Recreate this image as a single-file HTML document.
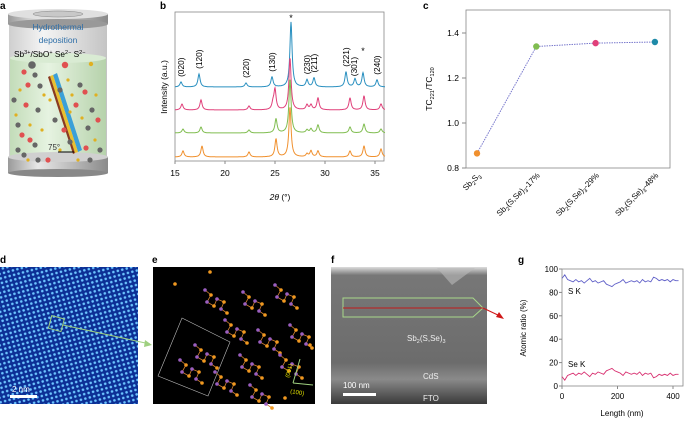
<!DOCTYPE html>
<html><head><meta charset="utf-8">
<style>
html,body{margin:0;padding:0;background:#fff;}
svg{display:block;font-family:"Liberation Sans",Arial,sans-serif;}
</style></head>
<body>
<svg id="fig" width="685" height="422" viewBox="0 0 685 422">
<defs>
<linearGradient id="cyl" x1="0" x2="1"><stop offset="0" stop-color="#9a9a9a"/><stop offset="0.3" stop-color="#e8e8e8"/><stop offset="1" stop-color="#8a8a8a"/></linearGradient>
<linearGradient id="glass" x1="0" x2="1"><stop offset="0" stop-color="#cfcfcf"/><stop offset="0.35" stop-color="#f4f4f4"/><stop offset="1" stop-color="#c4c4c4"/></linearGradient>
<linearGradient id="liq" x1="0" x2="1"><stop offset="0" stop-color="#c3dcb9"/><stop offset="0.4" stop-color="#e6f3e1"/><stop offset="1" stop-color="#b6d2ab"/></linearGradient>
<pattern id="lat" width="4.6" height="4.6" patternUnits="userSpaceOnUse" patternTransform="rotate(-15)"><rect width="4.6" height="4.6" fill="#0c2f95"/><circle cx="2.3" cy="2.3" r="1.3" fill="#6cc4ff"/></pattern>
<linearGradient id="tem" x1="0" y1="0" x2="0" y2="1"><stop offset="0" stop-color="#dcdcdc"/><stop offset="0.06" stop-color="#777"/><stop offset="0.7" stop-color="#6c6c6c"/><stop offset="0.82" stop-color="#8a8a8a"/><stop offset="1" stop-color="#3a3a3a"/></linearGradient>
</defs>

<!-- Panel a -->
<g>
<text x="0" y="9" font-weight="bold" font-size="10">a</text>
<rect x="9" y="20" width="98" height="140" fill="url(#glass)"/>
<rect x="10" y="58" width="96" height="102" fill="url(#liq)"/>
<ellipse cx="58" cy="58" rx="48" ry="5" fill="#d9ebd3"/>
<rect x="8" y="157" width="100" height="16" fill="url(#cyl)"/>
<ellipse cx="58" cy="157" rx="50" ry="5" fill="#d0d0d0"/>
<ellipse cx="58" cy="173" rx="50" ry="4" fill="#888"/>
<rect x="8" y="14" width="100" height="10" fill="url(#cyl)"/>
<ellipse cx="58" cy="14" rx="50" ry="5" fill="#e0e0e0"/>
<ellipse cx="58" cy="24" rx="50" ry="5" fill="#999"/>
<ellipse cx="58" cy="14" rx="25" ry="3" fill="#c8c8c8" stroke="#888" stroke-width="0.5"/>
<text x="58" y="30" font-size="8.5" fill="#2f6fa8" text-anchor="middle">Hydrothermal</text>
<text x="58" y="43" font-size="8.5" fill="#2f6fa8" text-anchor="middle">deposition</text>
<text x="14" y="57" font-size="8.3">Sb<tspan font-size="5.5" dy="-3">3+</tspan><tspan dy="3">/SbO</tspan><tspan font-size="5.5" dy="-3">+</tspan><tspan dy="3"> Se</tspan><tspan font-size="5.5" dy="-3">2−</tspan><tspan dy="3"> S</tspan><tspan font-size="5.5" dy="-3">2−</tspan></text>
<circle cx="32" cy="65" r="3.8" fill="#666"/><circle cx="65" cy="65" r="3.2" fill="#e05050"/><circle cx="91" cy="64" r="2.2" fill="#e0b020"/>
<polygon points="53,75 57,73 82,150 78,152" fill="#3ba0d8"/>
<polygon points="50,76 53,75 78,152 75,153" fill="#e8c030"/>
<polygon points="48,77 50,76 75,153 73,154" fill="#8a3a20"/>
<text x="48" y="150" font-size="8" fill="#333">75°</text>
<line x1="58" y1="152" x2="74" y2="152" stroke="#000"/>
<g id="parts"></g>
</g>

<!-- Panel b -->
<g>
<text x="160" y="9" font-weight="bold" font-size="10">b</text>
<rect x="175" y="12" width="209" height="149" fill="none" stroke="#888" stroke-width="0.8"/>
<g id="xrdTicks"></g>
<g id="xrdCurves"></g>
<text transform="translate(167,87) rotate(-90)" font-size="8.5" text-anchor="middle">Intensity (a.u.)</text>
<text x="280" y="200" font-size="8.5" text-anchor="middle"><tspan font-style="italic">2θ</tspan> (°)</text>
</g>

<!-- Panel c -->
<g>
<text x="423" y="9" font-weight="bold" font-size="10">c</text>
<rect x="466" y="10" width="204" height="158" fill="none" stroke="#888" stroke-width="0.8"/>
<g id="tcAxis"></g>
<g id="tcMarks"></g>
<text transform="translate(432,89) rotate(-90)" font-size="8.5" text-anchor="middle">TC<tspan font-size="5.5" dy="2">221</tspan><tspan dy="-2">/TC</tspan><tspan font-size="5.5" dy="2">120</tspan></text>
</g>

<!-- Panel d -->
<g>
<text x="0" y="263" font-weight="bold" font-size="10">d</text>
<rect x="0" y="267" width="138" height="137" fill="url(#lat)"/>
<rect x="50" y="317" width="13" height="13" fill="none" stroke="#9fd080" stroke-width="1" transform="rotate(15 56 323)"/>
<line x1="63" y1="325" x2="150" y2="344" stroke="#9fd080" stroke-width="1"/>
<polygon points="152,345 145,340 144,347" fill="#9fd080"/>
<rect x="10" y="395" width="27" height="3" fill="#fff"/>
<text x="12" y="392" font-size="8" fill="#fff">2 nm</text>
</g>

<!-- Panel e -->
<g>
<text x="152" y="263" font-weight="bold" font-size="10">e</text>
<rect x="153" y="267" width="162" height="137" fill="#000"/>
<polygon points="182,318 230,342 208,396 158,376" fill="none" stroke="#bbb" stroke-width="0.6"/>
<g id="atoms"></g>
<line x1="293" y1="383" x2="300" y2="359" stroke="#9fd080"/><line x1="293" y1="383" x2="313" y2="385" stroke="#9fd080"/>
<text transform="translate(289,378) rotate(-75)" font-size="6" fill="#e0e000">(001)</text>
<text transform="translate(290,393) rotate(10)" font-size="6" fill="#e0e000">(100)</text>
</g>

<!-- Panel f -->
<g>
<text x="331" y="263" font-weight="bold" font-size="10">f</text>
<rect x="331" y="267" width="156" height="137" fill="url(#tem)"/>
<polygon points="437,268 475,268 452,285" fill="#bbb" opacity="0.6"/>
<polygon points="343,298 473,298 483,308 473,317 343,317" fill="none" stroke="#a8d88a" stroke-width="1"/>
<line x1="343" y1="308" x2="483" y2="308" stroke="#c01818" stroke-width="1"/>
<line x1="483" y1="308" x2="500" y2="316" stroke="#d01818" stroke-width="1"/>
<polygon points="504,319 496,317 499,312" fill="#d01818"/>
<text x="407" y="341" font-size="8" fill="#eee">Sb<tspan font-size="5.5" dy="2">2</tspan><tspan dy="-2">(S,Se)</tspan><tspan font-size="5.5" dy="2">3</tspan></text>
<text x="423" y="379" font-size="8" fill="#eee">CdS</text>
<text x="423" y="401" font-size="8" fill="#eee">FTO</text>
<text x="343" y="388" font-size="8" fill="#fff">100 nm</text>
<rect x="343" y="393" width="33" height="3" fill="#fff"/>
</g>

<!-- Panel g -->
<g>
<text x="518" y="263" font-weight="bold" font-size="10">g</text>
<rect x="562" y="269" width="121" height="117" fill="none" stroke="#888" stroke-width="0.8"/>
<g id="edsAxis"></g>
<g id="edsLines"></g>
<text x="568" y="294" font-size="8">S K</text>
<text x="568" y="367" font-size="8">Se K</text>
<text transform="translate(526,328) rotate(-90)" font-size="8" text-anchor="middle">Atomic ratio (%)</text>
<text x="622" y="416" font-size="8" text-anchor="middle">Length (nm)</text>
</g>
</svg>
<script>
// ---------- XRD data (panel b) ----------
const xrdTickLabels = [15, 20, 25, 30, 35];
const xrdSeriesNames = ["Sb2(S,Se)3-48%", "Sb2(S,Se)3-29%", "Sb2(S,Se)3-17%", "Sb2S3"];
const bluePeakPos = [15.6, 17.4, 22.1, 24.7, 26.6, 28.2, 28.9, 32.1, 33.0, 33.8, 35.2];
const bluePeakH = [5, 13, 4, 10, 65, 7, 9, 15, 8, 14, 7];
const pinkPeakPos = [15.7, 17.6, 22.4, 24.8, 25.0, 26.5, 28.2, 28.6, 29.3, 32.5, 33.9, 35.6];
const pinkPeakH = [6, 10, 4, 6, 20, 52, 5, 5, 12, 12, 14, 6];
const greenPeakPos = [15.8, 17.6, 22.4, 25.1, 26.5, 28.2, 28.6, 29.3, 32.5, 33.9, 35.6];
const greenPeakH = [4, 6, 3, 14, 54, 3, 4, 8, 6, 9, 4];
const orangePeakPos = [15.8, 17.7, 22.4, 25.1, 26.5, 28.2, 28.6, 29.3, 32.5, 33.9, 35.6];
const orangePeakH = [6, 11, 5, 18, 50, 3, 6, 6, 6, 11, 8];
const peakLabels = ["(020)", "(120)", "(220)", "(130)", "(230)", "(211)", "(221)", "(301)", "(240)"];
const peakLabelPos = [15.6, 17.4, 22.1, 24.7, 28.2, 28.9, 32.1, 32.9, 35.2];
const starPos = [26.6, 33.8];

// ---------- TC ratio data (panel c) ----------
const tcCategories = ["Sb2S3", "Sb2(S,Se)3-17%", "Sb2(S,Se)3-29%", "Sb2(S,Se)3-48%"];
const tcValues = [0.865, 1.34, 1.355, 1.36];
const tcTicks = [0.8, 1.0, 1.2, 1.4];

// ---------- EDS line scan data (panel g) ----------
const edsLength = [0,10,20,30,40,50,60,70,80,90,100,110,120,130,140,150,160,170,180,190,200,210,220,230,240,250,260,270,280,290,300,310,320,330,340,350,360,370,380,390,400,410,420];
const sK = [92,95,91,90,89,91,89,90,88,90,92,89,90,88,89,90,87,86,85,87,88,89,91,88,89,90,89,90,88,91,89,90,89,93,92,90,91,90,91,89,91,90,90];
const seK = [8,5,9,10,11,9,11,10,12,10,8,11,10,12,11,10,13,14,15,13,12,11,9,12,11,10,11,10,12,9,11,10,11,7,8,10,9,10,9,11,9,10,10];
const edsXTicks = [0, 200, 400];
const edsYTicks = [0, 20, 40, 60, 80, 100];

const NS = "http://www.w3.org/2000/svg";
function mk(tag, attrs, parent){const e=document.createElementNS(NS,tag);for(const k in attrs)e.setAttribute(k,attrs[k]);parent.appendChild(e);return e;}

// panel b axes
const bx = v => 175 + (v - 15) * 10;
const xrdTicksG = document.getElementById("xrdTicks");
xrdTickLabels.forEach(t=>{
  const l=mk("line",{x1:bx(t),x2:bx(t),y1:161,y2:164,stroke:"#888"},xrdTicksG);
  
  
  const tx=mk("text",{x:bx(t),y:176,"font-size":"8.5","text-anchor":"middle"},xrdTicksG);
  tx.textContent=t;
  
  
});
const series = [
  {pos:bluePeakPos,h:bluePeakH,base:87,col:"#2a90c0",name:"xrd-curve-48"},
  {pos:pinkPeakPos,h:pinkPeakH,base:110,col:"#e0407a",name:"xrd-curve-29"},
  {pos:greenPeakPos,h:greenPeakH,base:133,col:"#80bd50",name:"xrd-curve-17"},
  {pos:orangePeakPos,h:orangePeakH,base:157,col:"#f0902e",name:"xrd-curve-sb2s3"}
];
const cg=document.getElementById("xrdCurves");
series.forEach(s=>{
  let d="";
  for(let x=15;x<=36;x+=0.04){
    let y=0;
    s.pos.forEach((p,i)=>{const w=0.13;y+=s.h[i]*w*w/((x-p)*(x-p)+w*w);});
    d+=(d?"L":"M")+bx(x).toFixed(1)+","+(s.base-y).toFixed(1);
  }
  const p=mk("path",{d:d,fill:"none",stroke:s.col,"stroke-width":"1"},cg);
  
  
});
// label bottom = just above the blue peak top
peakLabels.forEach((lab,i)=>{
  const p=peakLabelPos[i];
  let top=0; bluePeakPos.forEach((q,j)=>{const w=0.13;top+=bluePeakH[j]*w*w/((p-q)*(p-q)+w*w);});
  const yb=Math.min(97,87-top-5);
  const t=mk("text",{transform:`translate(${bx(p)+3},${yb.toFixed(1)}) rotate(-90)`,"font-size":"8.3"},cg);
  t.textContent=lab;
  
  
});
starPos.forEach((p,i)=>{
  const t=mk("text",{x:bx(p),y:i===0?21:54,"font-size":"9","text-anchor":"middle"},cg);
  t.textContent="*";
  
  
});

// panel c
const cy = v => 168 - (v - 0.8) / 0.6 * 135;
const cx = i => 477 + i * 59.3;
const ca=document.getElementById("tcAxis");
tcTicks.forEach(t=>{
  const l=mk("line",{x1:466,x2:462,y1:cy(t),y2:cy(t),stroke:"#888"},ca);
  
  
  const tx=mk("text",{x:459,y:cy(t)+3,"font-size":"8.5","text-anchor":"end"},ca);
  tx.textContent=t.toFixed(1);
  
  
});
tcCategories.forEach((c,i)=>{
  const m=c.match(/^Sb2(S3|\(S,Se\)3)(.*)$/);
  const tx=mk("text",{transform:`translate(${cx(i)+4},${176}) rotate(-45)`,"font-size":"8","text-anchor":"end"},ca);
  
  
  if(m[1]==="S3"){tx.innerHTML='Sb<tspan font-size="5.5" dy="2">2</tspan><tspan dy="-2">S</tspan><tspan font-size="5.5" dy="2">3</tspan>';}
  else{tx.innerHTML='Sb<tspan font-size="5.5" dy="2">2</tspan><tspan dy="-2">(S,Se)</tspan><tspan font-size="5.5" dy="2">3</tspan><tspan dy="-2">'+m[2]+'</tspan>';}
});
const cm=document.getElementById("tcMarks");
const tcCols=["#f0902e","#80bd50","#e0407a","#1e8aa8"];
const pl=mk("polyline",{points:tcValues.map((v,i)=>cx(i)+","+cy(v)).join(" "),fill:"none",stroke:"#7777cc","stroke-width":"1","stroke-dasharray":"1.5,1"},cm);


tcValues.forEach((v,i)=>{
  const c=mk("circle",{cx:cx(i),cy:cy(v),r:3.2,fill:tcCols[i]},cm);
  
  
});

// panel g
const gx = v => 562 + v / 400 * 111;
const gy = v => 386 - v / 100 * 117;
const ea=document.getElementById("edsAxis");
edsXTicks.forEach(t=>{
  const tx=mk("text",{x:gx(t),y:399,"font-size":"8","text-anchor":"middle"},ea);
  tx.textContent=t;
  
  
  const l=mk("line",{x1:gx(t),x2:gx(t),y1:386,y2:389,stroke:"#888"},ea);
  
  
});
edsYTicks.forEach(t=>{
  const tx=mk("text",{x:558,y:gy(t)+3,"font-size":"8","text-anchor":"end"},ea);
  tx.textContent=t;
  
  
  const l=mk("line",{x1:562,x2:559,y1:gy(t),y2:gy(t),stroke:"#888"},ea);
  
  
});
const el=document.getElementById("edsLines");
[[sK,"#6060c8","s-k-line"],[seK,"#d83070","se-k-line"]].forEach(([arr,col,nm])=>{
  const p=mk("polyline",{points:arr.map((v,i)=>gx(edsLength[i])+","+gy(v)).join(" "),fill:"none",stroke:col,"stroke-width":"0.9"},el);
  
  
});

// decorative particles in panel a & atoms in panel e
const pg=document.getElementById("parts");
const partPos=[[24,72,2],[35,75,1],[20,90,0],[40,86,1],[26,105,2],[16,115,0],[38,110,1],[30,125,0],[22,135,2],[35,145,1],[60,90,1],[72,95,0],[85,92,2],[92,110,1],[70,112,0],[88,128,1],[95,140,0],[64,130,2],[78,160,0],[90,160,1],[48,160,2],[28,160,0],[18,150,1],[50,100,0],[55,120,1],
 [14,100,1],[28,85,2],[44,95,0],[18,125,1],[30,140,2],[42,130,0],[68,80,0],[80,85,1],[96,95,0],[76,105,2],[98,120,2],[82,118,0],[70,142,1],[86,148,2],[60,150,0],[24,155,1],[38,160,1],[100,150,1]];
const pcol=["#e0b020","#666","#e05050"];
partPos.forEach(p=>{mk("circle",{cx:p[0],cy:p[1],r:p[2]===0?1.6:2.6,fill:pcol[p[2]]},pg);});
const ag=document.getElementById("atoms");
const chains=[[205,290],[243,292],[275,285],[225,320],[258,330],[290,325],[195,345],[240,355],[280,355],[215,372],[250,385],[180,360]];
chains.forEach(c=>{
  let d=`M${c[0]},${c[1]} l6,5 l-4,7 l7,4 l3,-7 l7,3 l-3,7 l6,4`;
  mk("path",{d:d,fill:"none",stroke:"#d08030","stroke-width":"0.8"},ag);
  [[0,0],[6,5],[2,12],[9,16],[12,9],[19,12],[16,19],[22,23]].forEach((o,i)=>mk("circle",{cx:c[0]+o[0],cy:c[1]+o[1],r:1.8,fill:i%2?"#f09820":"#9b5fc0"},ag));
});
[[210,272],[175,284],[310,345],[285,398]].forEach(p=>mk("circle",{cx:p[0],cy:p[1],r:1.8,fill:"#f09820"},ag));
</script>
</body></html>
